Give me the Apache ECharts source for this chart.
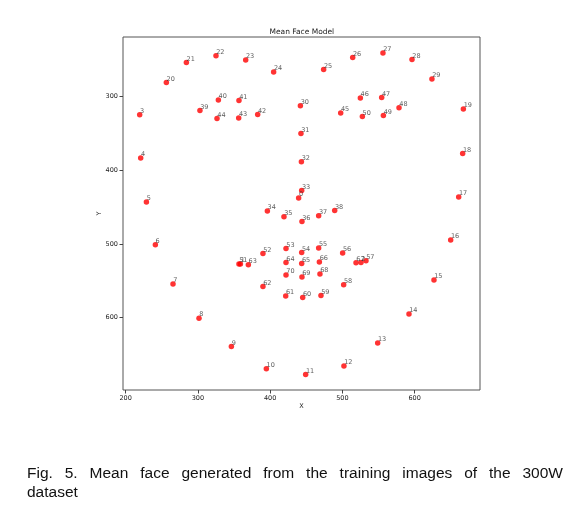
<!DOCTYPE html>
<html>
<head>
<meta charset="utf-8">
<script src="https://cdn.jsdelivr.net/npm/echarts@6/dist/echarts.min.js"></script>
<style>
  html, body { margin: 0; padding: 0; background: #fff; }
  #chart { position: absolute; left: 0; top: 0; width: 571px; height: 508px; }
  .cap {
    position: absolute; left: 27px; width: 536px;
    font-family: "Liberation Sans", Arial, Helvetica, sans-serif; font-size: 15.5px;
    line-height: 19px; color: #111; white-space: nowrap;
  }
  #cap1 { top: 463px; text-align: justify; text-align-last: justify; white-space: normal; }
  #cap2 { top: 482px; text-align: left; }
</style>
</head>
<body>
<div id="chart"></div>
<div class="cap" id="cap1">Fig. 5. Mean face generated from the training images of the 300W</div>
<div class="cap" id="cap2">dataset</div>
<script>
// Landmark ids and their mean coordinates
const ids = [0,1,2,3,4,5,6,7,8,9,10,11,12,13,14,15,16,17,18,19,20,21,22,23,24,25,26,27,28,29,30,31,32,33,34,35,36,37,38,39,40,41,42,43,44,45,46,47,48,49,50,51,52,53,54,55,56,57,58,59,60,61,62,63,64,65,66,67,68,69,70];
const xs = [439.4,358.8,525.7,219.4,220.8,228.7,241.1,265.5,301.5,346.3,394.7,449.1,502.1,548.8,592.1,626.7,649.8,660.9,666.4,667.4,256.3,284.0,325.0,366.1,404.8,474.0,514.2,556.1,596.3,623.9,441.8,442.6,443.2,443.6,396.1,419.1,444.0,467.1,489.3,302.8,328.3,356.8,382.7,356.4,326.4,497.6,524.8,554.3,578.3,556.7,527.6,356.8,390.0,421.9,443.6,467.1,500.3,532.6,501.7,470.3,445.0,421.5,390.0,369.8,421.9,443.6,468.1,518.8,468.9,444.0,421.9];
const ys = [437.9,527.4,525.2,324.8,383.6,443.3,501.2,554.5,601.0,639.2,669.5,677.2,665.8,634.6,595.3,549.1,494.8,436.5,377.3,317.1,281.0,253.9,244.8,250.6,266.9,263.4,247.1,241.1,249.8,276.4,312.6,350.2,388.6,427.5,455.5,463.2,469.6,461.9,454.7,319.0,304.9,305.4,324.4,329.3,329.9,322.5,302.2,301.4,315.3,325.8,327.1,527.4,513.0,506.2,511.7,505.7,512.5,522.9,555.5,570.0,572.7,570.8,557.8,528.4,525.2,526.6,524.7,525.6,541.0,545.0,542.3];
const xTicks = [200, 300, 400, 500, 600];
const yTicks = [300, 400, 500, 600];
const titleText = 'Mean Face Model';

const data = xs.map((x, i) => [x, ys[i], String(ids[i])]);

const chart = echarts.init(document.getElementById('chart'), null, { renderer: 'canvas' });
const axisCommon = {
  type: 'value',
  axisLine: { show: false },
  splitLine: { show: false },
  axisTick: { show: true, inside: false, length: 3.5, lineStyle: { color: '#444', width: 1 } },
  axisLabel: { color: '#222', fontSize: 6.5, fontFamily: 'DejaVu Sans', margin: 5 },
  nameTextStyle: { color: '#222', fontSize: 6.5, fontFamily: 'DejaVu Sans' },
  nameMoveOverlap: false
};
chart.setOption({
  animation: false,
  backgroundColor: '#fff',
  graphic: [{
    type: 'text', left: 301.5 - 32, top: 28.5,
    style: { text: titleText, fill: '#222', font: '7.5px "DejaVu Sans"' }
  }],
  grid: { left: 123, top: 37, right: 91, bottom: 118, show: true, borderColor: '#555', borderWidth: 1, backgroundColor: 'transparent' },
  xAxis: Object.assign({}, axisCommon, {
    min: 196.3, max: 690.4,
    name: 'X', nameLocation: 'middle', nameGap: 13,
    axisTick: Object.assign({}, axisCommon.axisTick, { customValues: xTicks }),
    axisLabel: Object.assign({}, axisCommon.axisLabel, { customValues: xTicks })
  }),
  yAxis: Object.assign({}, axisCommon, {
    min: 219.3, max: 698.4, inverse: true,
    name: 'Y', nameLocation: 'middle', nameGap: 20, nameRotate: 90,
    axisTick: Object.assign({}, axisCommon.axisTick, { customValues: yTicks }),
    axisLabel: Object.assign({}, axisCommon.axisLabel, { customValues: yTicks })
  }),
  series: [{
    type: 'scatter',
    data: data,
    symbol: 'circle',
    symbolSize: 5.5,
    itemStyle: { color: '#ff0000' },
    label: {
      show: true,
      formatter: p => p.data[2],
      position: [3, 2.75],
      align: 'left',
      verticalAlign: 'bottom',
      color: '#333',
      fontSize: 6.5,
      fontFamily: 'DejaVu Sans'
    },
    labelLayout: { hideOverlap: false }
  }]
});
</script>
</body>
</html>
